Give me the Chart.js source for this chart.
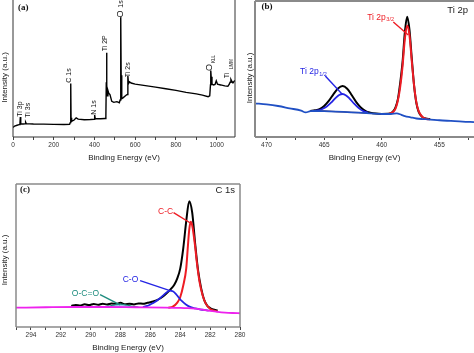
<!DOCTYPE html>
<html><head><meta charset="utf-8">
<script src="https://cdn.jsdelivr.net/npm/chart.js@4/dist/chart.umd.min.js"></script>
<style>
html,body{margin:0;padding:0;background:#fff;}
#wrap{position:relative;width:474px;height:353px;overflow:hidden;background:#fff;}
canvas{position:absolute;}
</style></head><body>
<div id="wrap">
<canvas id="ca" style="left:0;top:0;width:237px;height:175px" width="237" height="175"></canvas>
<canvas id="cb" style="left:237px;top:0;width:237px;height:175px" width="237" height="175"></canvas>
<canvas id="cc" style="left:0;top:175px;width:250px;height:178px" width="250" height="178"></canvas>
</div>
<script>
// ---------- Panel (a): survey spectrum ----------
const aEnergy = [0, 8, 20, 30, 34, 36, 38, 50, 59, 62, 65, 100, 150, 200, 250, 278, 281, 283.5, 285, 288, 300, 310, 320, 350, 380, 398, 401, 404, 430, 452, 456, 458, 459.5, 461, 463, 466, 470, 476, 485, 495, 510, 522, 526, 528.5, 529.5, 531, 534, 540, 555, 561, 564, 567, 572, 580, 600, 650, 700, 750, 800, 850, 900, 930, 958, 966, 969.5, 971, 973, 977, 985, 992, 998, 1004, 1020, 1040, 1055, 1062, 1066, 1070, 1075, 1080, 1085, 1090];
const aIntensity = [7, 8, 8.6, 9, 9.3, 14.6, 9.6, 9.5, 9.7, 10.8, 9.8, 9.5, 9.4, 9.2, 9.1, 9.3, 10.5, 39, 14, 11.5, 12.4, 14, 13, 12.6, 12.8, 13, 16, 13.3, 13.3, 13.5, 15, 40, 61.5, 38, 30, 34, 32, 31, 26, 25.3, 25.8, 25, 27, 50, 87.5, 45, 28, 28.6, 30.5, 31, 44.5, 39, 40.3, 39.4, 38.6, 37.5, 36.4, 35.2, 34, 32.6, 31.5, 30.6, 29.4, 30, 38, 48.5, 44, 38.5, 38, 38.4, 41, 38.5, 38, 37.3, 37, 38.5, 40, 42, 40.5, 39.5, 40.5, 41.2];
const aMajorTicks = [0, 200, 400, 600, 800, 1000];
const aMinorTicks = [100, 300, 500, 700, 900];
const aPeakLabels = ['Ti 3p', 'Ti 3s', 'C 1s', 'N 1s', 'Ti 2P', 'O', '1s', 'Ti 2s', 'O', 'KLL', 'Ti', 'LMM'];
const aPeakLabelE = [36, 74, 275, 398, 450.5, 529, 533, 565, 963, 984, 1053, 1076];
const aPeakLabelI = [20.4, 19.5, 44.9, 21.5, 68.4, 89.8, 97.1, 49.1, 50.7, 56.9, 45, 53.3];
const aPeakLabelSize = [7, 7, 7, 7, 7, 9, 7, 7, 9, 4.5, 7, 4.5];

// ---------- Panel (b): Ti 2p ----------
const bBaseE = [471, 470, 469, 468, 467, 466.6, 466.2, 466, 465, 464, 463, 462, 461, 460, 459.2, 458.7, 458.3, 458, 457.5, 457, 456.5, 456, 455, 454, 453, 452];
const bBaseI = [24.8, 24.0, 22.8, 21.1, 19.4, 18.1, 19.0, 19.1, 19.0, 18.7, 18.3, 17.9, 17.4, 16.9, 16.9, 17.4, 16.3, 15.4, 14.5, 13.6, 13.2, 13.0, 12.3, 11.8, 11.3, 11.0];
const bBgE = [466, 465, 464, 463, 462, 461.2];
const bBgI = [19.3, 19.1, 18.7, 18.3, 17.9, 17.5];
const bEnvE = [466.2, 465.8, 465.4, 465, 464.6, 464.2, 463.8, 463.4, 463, 462.6, 462.2, 461.8, 461.4, 461, 460.5, 460, 459.5, 459.2, 459, 458.8, 458.6, 458.4, 458.2, 458, 457.8, 457.6, 457.4, 457.2, 457, 456.8, 456.5, 456.2, 455.8];
const bEnvI = [19.1, 19.6, 20.5, 22.8, 26.5, 31.4, 35.7, 37.5, 35.5, 30.7, 25.5, 21.5, 19.0, 17.9, 17.2, 17.0, 17.1, 17.5, 19.0, 22, 28, 40, 55, 77, 88.5, 79, 58, 38, 25, 18.5, 14.8, 13.6, 13.0];
const bRedE = [459.4, 459.0, 458.8, 458.6, 458.4, 458.2, 458.0, 457.8, 457.6, 457.4, 457.2, 457.0, 456.8, 456.5, 456.2, 455.9];
const bRedI = [16.9, 18.5, 21, 27, 37, 52, 72, 82, 75, 56, 38, 25.5, 19, 15, 13.4, 13.0];
const bBlueE = [466.0, 465.6, 465.2, 464.8, 464.4, 464.0, 463.7, 463.4, 463.1, 462.8, 462.4, 462.0, 461.6, 461.2];
const bBlueI = [19.2, 19.5, 20.4, 22.2, 25.2, 28.8, 30.9, 31.6, 30.6, 28.3, 24.5, 21.2, 19.0, 18.0];
const bMajorTicks = [470, 465, 460, 455];
const bMinorTicks = [467.5, 462.5, 457.5, 452.5];

// ---------- Panel (c): C 1s ----------
const cBaseE = [295, 293, 291, 289, 287, 285, 284, 283.5, 283, 282.5, 282, 281.5, 281, 280.5, 280];
const cBaseI = [13.5, 13.8, 14.0, 14.0, 13.8, 13.6, 13.4, 13.2, 12.8, 12.1, 11.3, 10.6, 10.1, 9.8, 9.6];
const cEnvE = [291.3, 291.0, 290.7, 290.4, 290.1, 289.8, 289.5, 289.2, 288.9, 288.6, 288.3, 288.0, 287.7, 287.4, 287.1, 286.8, 286.5, 286.2, 285.9, 285.6, 285.3, 285.0, 284.7, 284.4, 284.2, 284.0, 283.8, 283.6, 283.4, 283.2, 283.0, 282.8, 282.6, 282.4, 282.2, 282.0, 281.8, 281.5];
const cEnvI = [14.7, 15.4, 15.0, 15.9, 15.3, 16.1, 15.5, 16.3, 15.7, 16.4, 16.0, 16.9, 15.9, 16.3, 15.8, 16.5, 16.3, 16.9, 17.6, 18.6, 20.3, 22.8, 25.8, 29.5, 34, 41, 55, 74, 88, 80, 58, 39, 27, 19, 15, 13.3, 12.3, 11.5];
const cRedE = [284.8, 284.5, 284.2, 284.0, 283.8, 283.6, 283.5, 283.4, 283.3, 283.2, 283.0, 282.9, 282.7, 282.5, 282.3, 282.0, 281.8, 281.5];
const cRedI = [13.5, 14.2, 17, 21, 29, 41, 55, 68, 73.6, 71, 56, 46, 31, 22, 16.5, 12.6, 11.6, 10.9];
const cBlueE = [286.5, 286.2, 286.0, 285.7, 285.4, 285.1, 284.9, 284.7, 284.5, 284.3, 284.1, 283.9, 283.6, 283.3, 283.0, 282.7, 282.4, 282.1];
const cBlueI = [14.0, 14.8, 15.8, 17.5, 19.8, 22.5, 24.3, 25.4, 25.0, 23.2, 20.6, 18.2, 15.6, 13.9, 13.0, 12.4, 11.9, 11.5];
const cTealE = [289.2, 288.8, 288.4, 288.0, 287.6, 287.2, 286.8];
const cTealI = [14.0, 14.6, 15.5, 16.0, 15.4, 14.5, 14.0];
const cMajorTicks = [294, 292, 290, 288, 286, 284, 282, 280];
const cMinorTicks = [295, 293, 291, 289, 287, 285, 283, 281];

// ---------- styling ----------
const FONT = "'Liberation Sans', Arial, sans-serif";
const SERIF = "'Liberation Serif', 'Times New Roman', serif";
const RED = '#ee1c24', BLUE = '#2424e4', BASEB = '#2050c4', MAG = '#ee22ee', TEAL = '#1e8c7e', BROWN = '#8a4b3c';

function pts(xs, ys) { return xs.map((x, i) => ({x: x, y: ys[i]})); }

function xScale(min, max, reverse, major, minor, height, titleBottom) {
  return {
    type: 'linear', min: min, max: max, reverse: reverse,
    afterBuildTicks: s => { s.ticks = major.concat(minor).sort((p, q) => p - q).map(v => ({value: v})); },
    afterFit: s => { s.height = height; },
    ticks: { autoSkip: false, maxRotation: 0, padding: 1, color: '#333', font: {family: FONT, size: 6.5},
             callback: v => major.includes(v) ? String(v) : '' },
    grid: { display: true, drawOnChartArea: false, drawTicks: true, tickLength: 3, color: '#444', lineWidth: 1 },
    border: { display: false },
    title: { display: true, text: 'Binding Energy (eV)', color: '#1a1a1a', font: {family: FONT, size: 8},
             padding: {top: 0, bottom: titleBottom} }
  };
}
function yScale(width, titleTop, text) {
  return {
    type: 'linear', min: 0, max: 100,
    afterFit: s => { s.width = width; },
    ticks: { display: false }, grid: { display: false }, border: { display: false },
    title: { display: true, text: text, color: '#1a1a1a', font: {family: FONT, size: 8}, padding: {top: titleTop, bottom: 0} }
  };
}
function framePlugin(id, color, width, sides) {
  return { id: id, afterDatasetsDraw(chart) {
    const c = chart.ctx, a = chart.chartArea;
    c.save(); c.strokeStyle = color; c.lineWidth = width; c.beginPath();
    if (sides.includes('t')) { c.moveTo(a.left, a.top); c.lineTo(a.right, a.top); }
    if (sides.includes('b')) { c.moveTo(a.left, a.bottom); c.lineTo(a.right, a.bottom); }
    if (sides.includes('l')) { c.moveTo(a.left, a.top); c.lineTo(a.left, a.bottom); }
    if (sides.includes('r')) { c.moveTo(a.right, a.top); c.lineTo(a.right, a.bottom); }
    c.stroke(); c.restore();
  }};
}
function notesPlugin(id, notes, leaders, fixed) {
  return { id: id, afterDatasetsDraw(chart) {
    const c = chart.ctx, xs = chart.scales.x, ys = chart.scales.y, a = chart.chartArea;
    c.save();
    (leaders || []).forEach(l => {
      c.strokeStyle = l.color; c.lineWidth = 1.4; c.beginPath();
      c.moveTo(xs.getPixelForValue(l.x1), ys.getPixelForValue(l.y1));
      c.lineTo(xs.getPixelForValue(l.x2), ys.getPixelForValue(l.y2));
      c.stroke();
    });
    (notes || []).forEach(t => {
      const px = xs.getPixelForValue(t.x), py = ys.getPixelForValue(t.y);
      c.save(); c.translate(px, py); if (t.rot) c.rotate(-Math.PI / 2);
      c.font = (t.weight || 'normal') + ' ' + t.size + 'px ' + (t.family || FONT);
      c.fillStyle = t.color || '#111'; c.textAlign = t.align || 'center'; c.textBaseline = 'middle';
      c.fillText(t.text, 0, 0);
      if (t.sub) {
        c.font = '5.5px ' + FONT; c.textAlign = 'left';
        c.fillText(t.sub, 0.5, 2.5);
      }
      c.restore();
    });
    (fixed || []).forEach(t => {
      c.font = (t.weight || 'normal') + ' ' + t.size + 'px ' + (t.family || FONT);
      c.fillStyle = t.color || '#111'; c.textBaseline = 'middle';
      if (t.side === 'right') { c.textAlign = 'right'; c.fillText(t.text, a.right - t.dx, a.top + t.dy); }
      else { c.textAlign = 'left'; c.fillText(t.text, a.left + t.dx, a.top + t.dy); }
    });
    c.restore();
  }};
}
function lineDs(xs, ys, color, width, order, smooth, extra) {
  return Object.assign({ data: pts(xs, ys), borderColor: color, borderWidth: width, pointRadius: 0,
    fill: false, order: order, tension: smooth ? 0.4 : 0, cubicInterpolationMode: smooth ? 'monotone' : 'default' }, extra || {});
}
const base = { responsive: false, animation: false, devicePixelRatio: 1,
  plugins: { legend: { display: false }, tooltip: { enabled: false } }, events: [] };

// ---------- Chart (a) ----------
const aNotes = aPeakLabels.map((t, i) => ({ text: t, x: aPeakLabelE[i], y: aPeakLabelI[i], size: aPeakLabelSize[i], rot: true, color: '#111' }));
new Chart(document.getElementById('ca'), {
  type: 'line',
  data: { datasets: [ lineDs(aEnergy, aIntensity, '#000', 1.4, 0, false) ] },
  options: Object.assign({}, base, {
    layout: { padding: { left: 0, right: 2, top: 0, bottom: 0 } },
    scales: { x: xScale(0, 1090, false, aMajorTicks, aMinorTicks, 38, 12), y: yScale(13, 0, 'Intensity (a.u.)        ') }
  }),
  plugins: [ framePlugin('fa', '#333', 1, 'lbr'),
    notesPlugin('na', aNotes, [], [{ text: '(a)', dx: 5, dy: 7.5, size: 9, weight: 'bold', family: SERIF }]) ]
});

// ---------- Chart (b) ----------
new Chart(document.getElementById('cb'), {
  type: 'line',
  data: { datasets: [
    lineDs(bBaseE, bBaseI, BASEB, 1.8, 0, true),
    lineDs(bBlueE, bBlueI, BLUE, 1.8, 1, true),
    lineDs(bBgE, bBgI, BROWN, 1.3, 2, true),
    lineDs(bRedE, bRedI, RED, 2, 3, true),
    lineDs(bEnvE, bEnvI, '#000', 2, 4, true)
  ] },
  options: Object.assign({}, base, {
    layout: { padding: { left: 0, right: 0, top: 1, bottom: 0 } },
    scales: { x: xScale(452, 471, true, bMajorTicks, bMinorTicks, 38, 12), y: yScale(18, 8, 'Intensity (a.u.)        ') }
  }),
  plugins: [ framePlugin('fb', '#8a8a8a', 2, 'ltb'),
    notesPlugin('nb',
      [ { text: 'Ti 2p', sub: '3/2', x: 459.65, y: 88, color: RED, size: 8.5, align: 'right' },
        { text: 'Ti 2p', sub: '1/2', x: 465.48, y: 47.8, color: BLUE, size: 8.5, align: 'right' } ],
      [ { x1: 459.0, y1: 84.6, x2: 457.7, y2: 75, color: RED },
        { x1: 464.9, y1: 44.9, x2: 463.45, y2: 31.6, color: BLUE } ],
      [ { text: '(b)', dx: 6.5, dy: 6, size: 9, weight: 'bold', family: SERIF },
        { text: 'Ti 2p', side: 'right', dx: 6, dy: 9, size: 9.5, color: '#222' } ]) ]
});

// ---------- Chart (c) ----------
new Chart(document.getElementById('cc'), {
  type: 'line',
  data: { datasets: [
    lineDs(cBaseE, cBaseI, MAG, 1.8, 0, true),
    lineDs(cTealE, cTealI, TEAL, 1.2, 1, true, { fill: { value: 14 }, backgroundColor: 'rgba(110,160,225,0.6)' }),
    lineDs(cBlueE, cBlueI, BLUE, 1.8, 2, true),
    lineDs(cRedE, cRedI, RED, 2, 3, true),
    lineDs(cEnvE, cEnvI, '#000', 2, 4, true)
  ] },
  options: Object.assign({}, base, {
    layout: { padding: { left: 0, right: 10, top: 9, bottom: 0 } },
    scales: { x: xScale(280, 295, true, cMajorTicks, cMinorTicks, 26, 0), y: yScale(16, 0, 'Intensity (a.u.)    ') }
  }),
  plugins: [ framePlugin('fc', '#8a8a8a', 1.5, 'ltbr'),
    notesPlugin('nc',
      [ { text: 'C-C', x: 284.48, y: 80.4, color: RED, size: 8.5, align: 'right' },
        { text: 'C-O', x: 286.81, y: 32.9, color: BLUE, size: 8.5, align: 'right' },
        { text: 'O-C=O', x: 289.44, y: 23.3, color: TEAL, size: 8.5, align: 'right' } ],
      [ { x1: 284.45, y1: 80, x2: 283.35, y2: 72.9, color: RED },
        { x1: 286.69, y1: 32.4, x2: 284.69, y2: 25.4, color: BLUE },
        { x1: 289.37, y1: 22.7, x2: 288.03, y2: 15.4, color: TEAL } ],
      [ { text: '(c)', dx: 4, dy: 6, size: 9, weight: 'bold', family: SERIF },
        { text: 'C 1s', side: 'right', dx: 5, dy: 6, size: 9.5, color: '#222' } ]) ]
});
</script>
</body></html>
